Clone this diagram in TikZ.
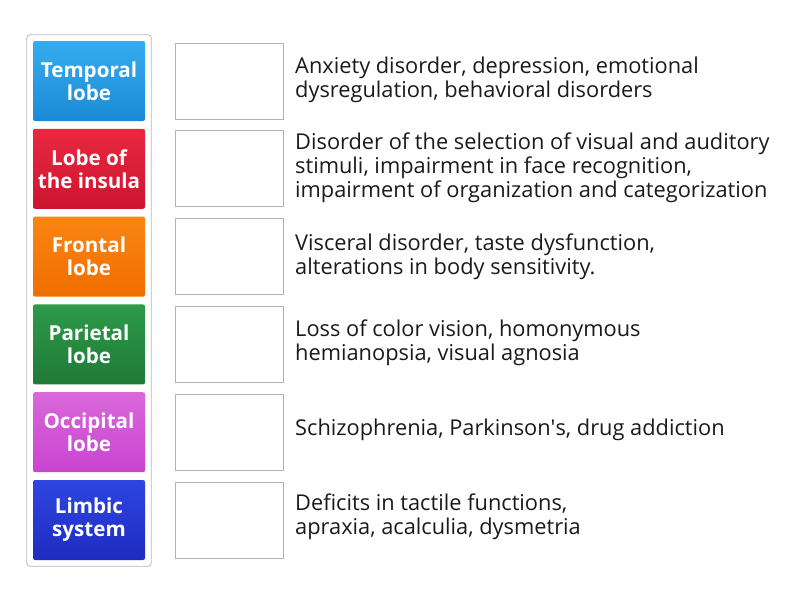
\documentclass[tikz,border=0pt]{standalone}
\usepackage{fontspec}
\setmainfont{Open Sans}
\usetikzlibrary{positioning, fit}
\definecolor{tempTop}{HTML}{36ACEF}
\definecolor{tempBot}{HTML}{1B8AD6}
\definecolor{insTop}{HTML}{E8283F}
\definecolor{insBot}{HTML}{CC1530}
\definecolor{froTop}{HTML}{FA8512}
\definecolor{froBot}{HTML}{F06E00}
\definecolor{parTop}{HTML}{2E9A4A}
\definecolor{parBot}{HTML}{1F7A36}
\definecolor{occTop}{HTML}{D968DA}
\definecolor{occBot}{HTML}{C944D0}
\definecolor{limTop}{HTML}{2E45E0}
\definecolor{limBot}{HTML}{1E2CC0}
\definecolor{descText}{HTML}{1A1A1A}
\tikzset{
  lobe/.style={rounded corners=2pt, minimum height=80pt, minimum width=112pt, inner sep=0pt,
    align=center, text=white, font=\fontsize{20.6}{23}\selectfont\bfseries},
  slot/.style={draw=black!30, line width=0.8pt, minimum height=76pt, minimum width=108pt, inner sep=0pt},
  desc/.style={anchor=west, align=left, inner sep=0pt, text=descText, font=\fontsize{21.8}{24}\selectfont},
  panel/.style={draw=black!28, line width=0.8pt, rounded corners=3pt, inner sep=6pt}
}
\begin{document}
\begin{tikzpicture}[x=1pt, y=-1pt, node distance=7.4pt and 30pt]
\useasboundingbox (0,0) rectangle (800,600);
\node[lobe, top color=tempTop, bottom color=tempBot] (temporal) at (89,81) {Temporal\\lobe};
\node[lobe, top color=insTop, bottom color=insBot, below=of temporal] (insula) {Lobe of\\the insula};
\node[lobe, top color=froTop, bottom color=froBot, below=of insula] (frontal) {Frontal\\lobe};
\node[lobe, top color=parTop, bottom color=parBot, below=of frontal] (parietal) {Parietal\\lobe};
\node[lobe, top color=occTop, bottom color=occBot, below=of parietal] (occipital) {Occipital\\lobe};
\node[lobe, top color=limTop, bottom color=limBot, below=of occipital] (limbic) {Limbic\\system};
\node[panel, fit=(temporal) (limbic)] (bank) {};
% empty answer slots
\node[slot, right=of temporal] (s1) {};
\node[slot, right=of insula] (s2) {};
\node[slot, right=of frontal] (s3) {};
\node[slot, right=of parietal] (s4) {};
\node[slot, right=of occipital] (s5) {};
\node[slot, right=of limbic] (s6) {};
% descriptions
\node[desc, right=11pt of s1, yshift=1pt] (d1) {Anxiety disorder, depression, emotional\\dysregulation, behavioral disorders};
\node[desc, right=11pt of s2, yshift=1pt] (d2) {Disorder of the selection of visual and auditory\\stimuli, impairment in face recognition,\\impairment of organization and categorization};
\node[desc, right=11pt of s3, yshift=0pt] (d3) {Visceral disorder, taste dysfunction,\\alterations in body sensitivity.};
\node[desc, right=11pt of s4, yshift=2pt] (d4) {Loss of color vision, homonymous\\hemianopsia, visual agnosia};
\node[desc, right=11pt of s5, yshift=2pt] (d5) {Schizophrenia, Parkinson\textquotesingle s, drug addiction};
\node[desc, right=11pt of s6, yshift=3pt] (d6) {Deficits in tactile functions,\\apraxia, acalculia, dysmetria};
\end{tikzpicture}
\end{document}
